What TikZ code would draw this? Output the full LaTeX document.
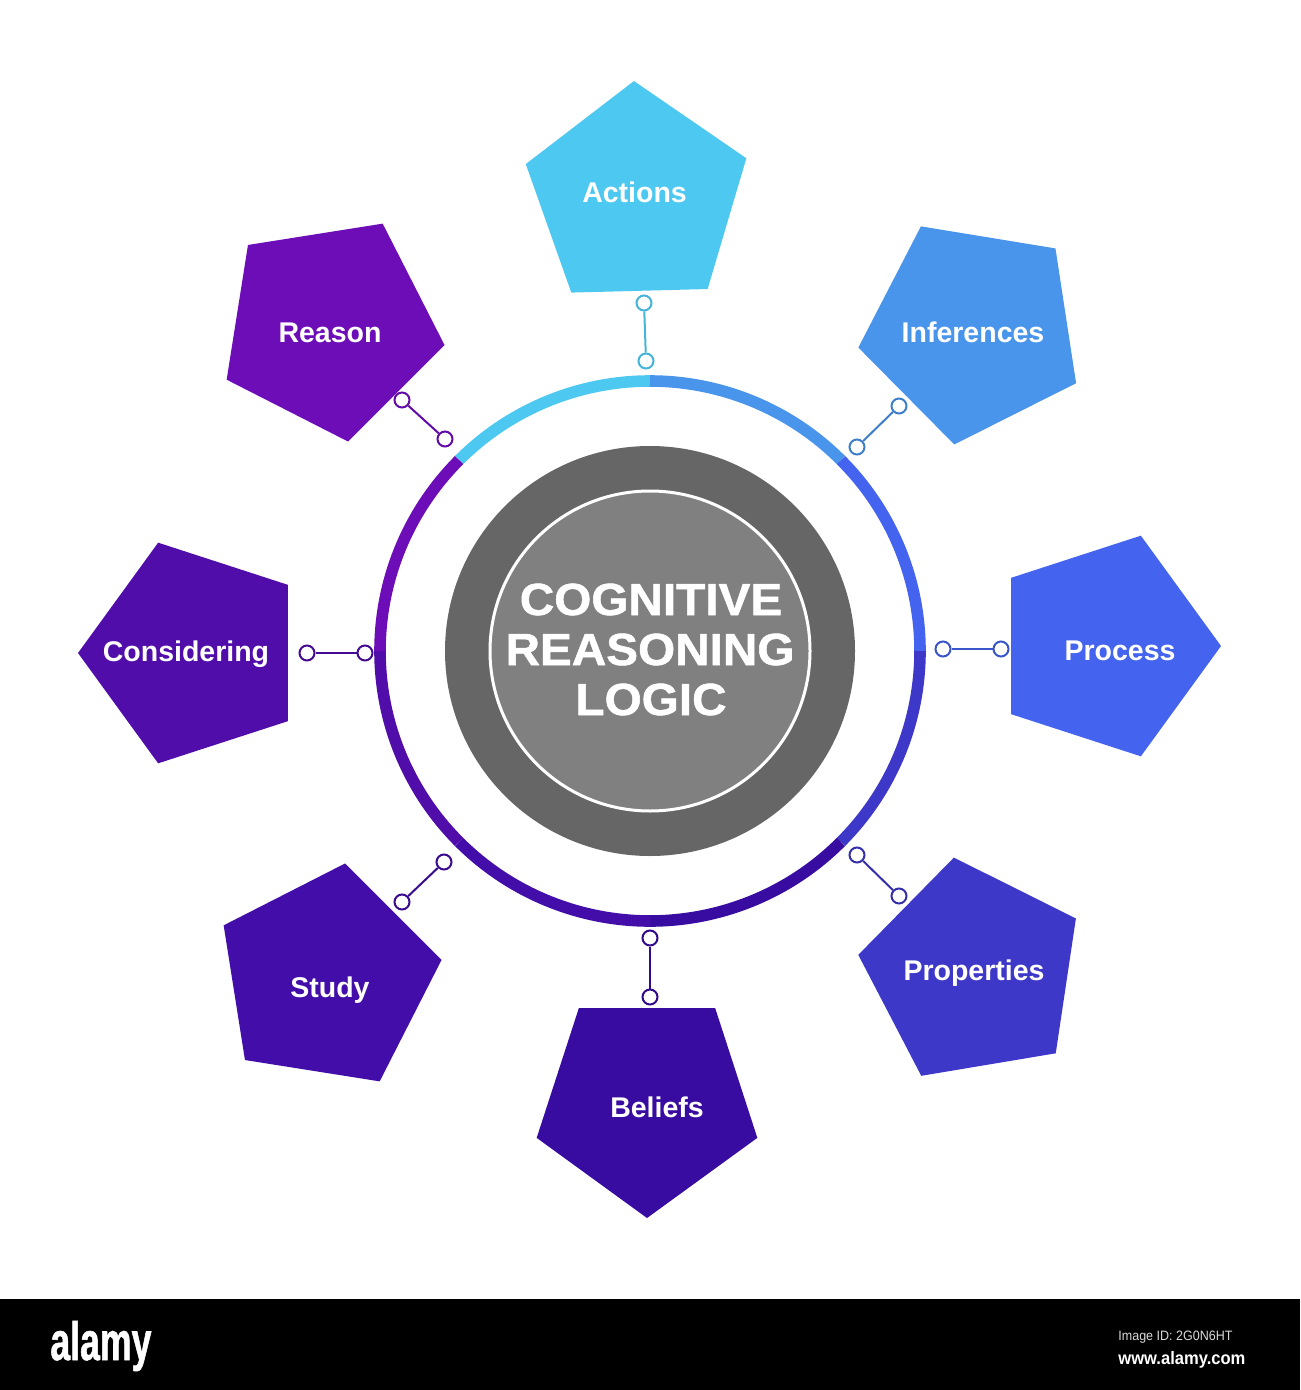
\documentclass[tikz,border=0pt]{standalone}
\usepackage{fontspec}
\setmainfont{Liberation Sans}
\newfontfamily\titlefont[FakeStretch=1.06,FakeBold=1.2]{Liberation Sans}
\newfontfamily\narrowfont[FakeStretch=0.66,FakeBold=1]{Liberation Sans}
\newfontfamily\slimfont[FakeStretch=0.92]{Liberation Sans}
\usetikzlibrary{calc}
\definecolor{actC}{HTML}{4DC8F0}
\definecolor{infC}{HTML}{4A95EC}
\definecolor{proC}{HTML}{4463EE}
\definecolor{propC}{HTML}{3E38C8}
\definecolor{belC}{HTML}{380CA0}
\definecolor{stuC}{HTML}{420DA8}
\definecolor{conC}{HTML}{500DAA}
\definecolor{reaC}{HTML}{6C0DB8}
\definecolor{grayA}{HTML}{666666}
\definecolor{grayB}{HTML}{808080}
\begin{document}
\begin{tikzpicture}[x=0.5pt,y=-0.5pt,
  lbl/.style={text=white, font=\fontsize{14.25}{17}\selectfont\bfseries, inner sep=0pt, anchor=base},
  ttl/.style={text=white, font=\titlefont\fontsize{22.5}{25}\selectfont\bfseries, inner sep=0pt, anchor=base},
  hub/.style={circle, draw=#1, fill=white, line width=1pt, minimum size=7.5pt, inner sep=0pt},
  link/.style={draw=#1, line width=1pt},
  seg/.style={draw=#1, line width=5.8pt}]
\useasboundingbox (0,0) rectangle (1300,1390);
\fill[white] (0,0) rectangle (1300,1390);
\coordinate (C) at (650,651);

% ring segments
\foreach \a/\col in {-90/actC,-45/infC,0/proC,45/propC,90/belC,135/stuC,180/conC,-135/reaC}{
  \draw[seg=\col] ($(C)+(\a:270)$) arc[start angle=\a, end angle=\a-45, radius=270];
}

% central disks
\node[circle, fill=grayA, minimum size=205pt, inner sep=0pt] (outerdisk) at (C) {};
\node[circle, fill=grayB, draw=white, line width=1.5pt, minimum size=160pt, inner sep=0pt] (innerdisk) at (C) {};
\node[ttl] (t1) at (651,615) {COGNITIVE};
\node[ttl] (t2) at (650,665) {REASONING};
\node[ttl] (t3) at (651,715) {LOGIC};

% pentagons
\foreach \cx/\cy/\a/\col in {637/197/-91.5/actC, 973/330/-44.7/infC, 1105/646/0/proC, 973/972/44.5/propC, 647/1102/90/belC, 327/978/135/stuC, 194/653/180/conC, 330/327/-135/reaC}{
  \fill[\col] ($(\cx,\cy)+(\a:116)$) -- ($(\cx,\cy)+(\a+72:116)$) -- ($(\cx,\cy)+(\a+144:116)$) -- ($(\cx,\cy)+(\a+216:116)$) -- ($(\cx,\cy)+(\a+288:116)$) -- cycle;
}

% labels
\node[lbl] (lAct) at (634.5,203) {Actions};
\node[lbl] (lInf) at (973,343) {Inferences};
\node[lbl] (lPro) at (1120,660) {Process};
\node[lbl] (lProp) at (974,980) {Properties};
\node[lbl] (lBel) at (657,1117) {Beliefs};
\node[lbl] (lStu) at (330,997) {Study};
\node[lbl] (lCon) at (186,661) {Considering};
\node[lbl] (lRea) at (330,343) {Reason};

% connectors
\node[hub=actC!90!black] (actO) at (644,303) {};
\node[hub=actC!90!black] (actI) at (646,361) {};
\draw[link=actC!90!black] (actO) -- (actI);
\node[hub=infC!85!black] (infO) at (899,406) {};
\node[hub=infC!85!black] (infI) at (857,447) {};
\draw[link=infC!85!black] (infO) -- (infI);
\node[hub=proC!85!black] (proO) at (1001,649) {};
\node[hub=proC!85!black] (proI) at (943,649) {};
\draw[link=proC!85!black] (proO) -- (proI);
\node[hub=propC!85!black] (propO) at (899,896) {};
\node[hub=propC!85!black] (propI) at (857,855) {};
\draw[link=propC!85!black] (propO) -- (propI);
\node[hub=belC!85!black] (belO) at (650,997) {};
\node[hub=belC!85!black] (belI) at (650,938) {};
\draw[link=belC!85!black] (belO) -- (belI);
\node[hub=stuC!85!black] (stuO) at (402,902) {};
\node[hub=stuC!85!black] (stuI) at (444,862) {};
\draw[link=stuC!85!black] (stuO) -- (stuI);
\node[hub=conC!85!black] (conO) at (307,653) {};
\node[hub=conC!85!black] (conI) at (365,653) {};
\draw[link=conC!85!black] (conO) -- (conI);
\node[hub=reaC!90!black] (reaO) at (402,400) {};
\node[hub=reaC!90!black] (reaI) at (445,439) {};
\draw[link=reaC!90!black] (reaO) -- (reaI);

% bottom banner
\fill[black] (0,1299) rectangle (1300,1390);
\node[text=white, font=\narrowfont\fontsize{27}{30}\selectfont\bfseries, inner sep=0pt, anchor=base west] (brand) at (50,1360) {alamy};
\node[text=white!85!black, font=\slimfont\fontsize{6.8}{8}\selectfont, inner sep=0pt, anchor=base west] (imgid) at (1118,1340) {Image ID: 2G0N6HT};
\node[text=white, font=\slimfont\fontsize{9}{11}\selectfont\bfseries, inner sep=0pt, anchor=base west] (site) at (1118,1364) {www.alamy.com};
\end{tikzpicture}
\end{document}
